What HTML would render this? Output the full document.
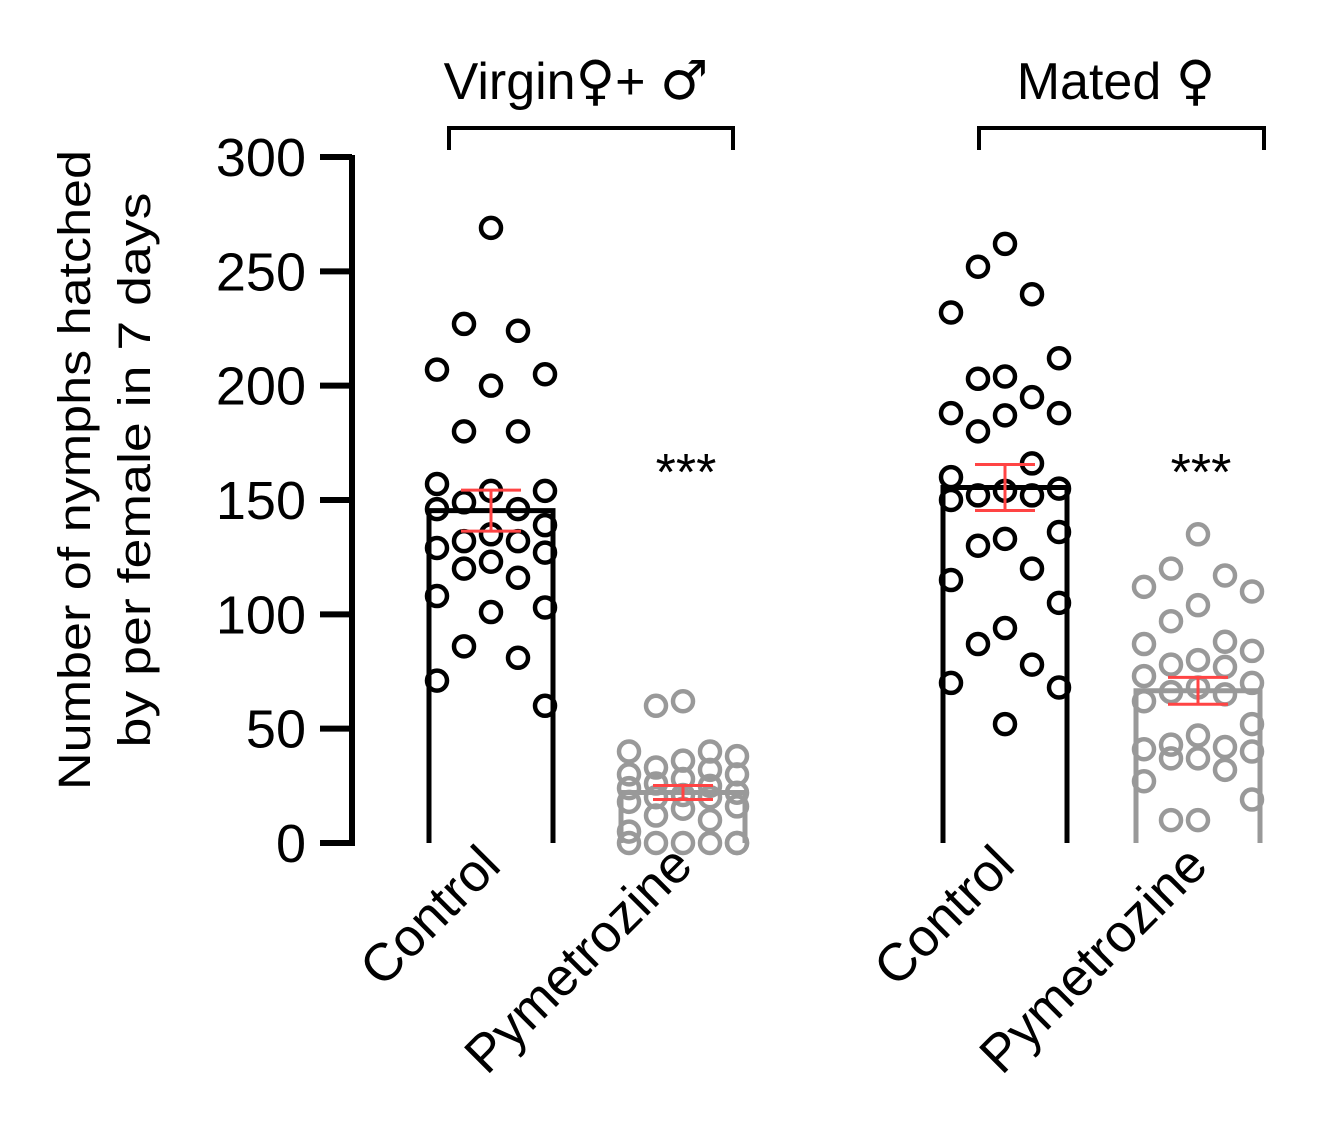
<!DOCTYPE html>
<html><head><meta charset="utf-8"><style>
html,body{margin:0;padding:0;background:#fff;}
svg{display:block;font-family:"Liberation Sans","DejaVu Sans",sans-serif;}
.sym{font-family:"DejaVu Sans",sans-serif;}
</style></head><body>
<svg id="chart" width="1318" height="1122" viewBox="0 0 1318 1122">
<g font-size="45" fill="#000">
<text transform="translate(90,470) rotate(-90)" text-anchor="middle" textLength="640" lengthAdjust="spacingAndGlyphs">Number of nymphs hatched</text>
<text transform="translate(150,470) rotate(-90)" text-anchor="middle" textLength="555" lengthAdjust="spacingAndGlyphs">by per female in 7 days</text>
</g>
<g id="axis"></g>
<g id="marks"></g>
<g>
<text x="576" y="99" font-size="52" text-anchor="middle">Virgin<tspan class="sym" font-size="54">♀</tspan>+ <tspan class="sym" font-size="54">♂</tspan></text>
<path d="M449,150 V128 H733 V150" fill="none" stroke="#000" stroke-width="4"/>
</g>
<g>
<text x="1116" y="99" font-size="52" text-anchor="middle">Mated <tspan class="sym" font-size="54">♀</tspan></text>
<path d="M979,150 V128 H1264 V150" fill="none" stroke="#000" stroke-width="4"/>
</g>
</svg>
<script>
const categories = ["Control","Pymetrozine","Control","Pymetrozine"];
const virginControl = [269,227,224,207,205,200,180,180,154,154,157,149,146,146,135,139,132,129,132,127,123,120,116,108,101,103,86,81,71,60];
const virginPym = [62,60,40,38,40,36,33,32,30,30,28,26,25,24,22,21,20,20,18,16,15,12,10,5,0,0,0,0,0,0];
const matedControl = [262,240,252,232,212,204,203,195,188,188,187,180,166,160,154,155,152,152,150,136,133,130,120,115,105,94,87,78,70,68,52];
const matedPym = [135,120,117,110,112,104,97,88,87,84,80,78,77,73,70,68,66,65,62,52,47,43,42,41,40,37,37,32,27,19,10,10];
const yTicks = [0,50,100,150,200,250,300];
const series = [virginControl, virginPym, matedControl, matedPym];
const centers = [491,683,1005,1198];
const colors = ["#000","#999","#000","#999"];
const sigLabels = ["","***","","***"];

const NS="http://www.w3.org/2000/svg";
const y0=843, y1=157;
const yScale = v => y0 - (v/300)*(y0-y1);
function mk(tag, attrs, parent){const e=document.createElementNS(NS,tag);for(const k in attrs)e.setAttribute(k,attrs[k]);parent.appendChild(e);return e;}
const axis=document.getElementById('axis'), marks=document.getElementById('marks');
const al=mk('line',{x1:352,x2:352,y1:y1-2,y2:y0+3,stroke:'#000','stroke-width':6},axis);


yTicks.forEach(t=>{
  const tl=mk('line',{x1:320,x2:352,y1:yScale(t),y2:yScale(t),stroke:'#000','stroke-width':6},axis);
  
  
  const tx=mk('text',{x:306,y:yScale(t)+19,'font-size':54,'text-anchor':'end'},axis);
  tx.textContent=t;
  
  
});
const lanes=[0,-1,1,-2,2];
series.forEach((vals,i)=>{
  const cx=centers[i], col=colors[i];
  const mean=vals.reduce((a,b)=>a+b,0)/vals.length;
  const sd=Math.sqrt(vals.reduce((a,b)=>a+(b-mean)**2,0)/(vals.length-1));
  const se=sd/Math.sqrt(vals.length);
  const bar=mk('path',{d:`M${cx-62},${y0} V${yScale(mean)} H${cx+62} V${y0}`,fill:'none',stroke:col,'stroke-width':5},marks);
  
  
  const sorted=vals.map((v,k)=>[v,k]).sort((a,b)=>b[0]-a[0]);
  sorted.forEach(([v],r)=>{
    const c=mk('circle',{cx:cx+lanes[r%5]*27,cy:yScale(v),r:10,fill:'none',stroke:col,'stroke-width':4.5},marks);
    
    
  });
  const eg=mk('g',{stroke:'#f44','stroke-width':3,fill:'none'},marks);
  
  
  mk('line',{x1:cx,x2:cx,y1:yScale(mean+se),y2:yScale(mean-se)},eg);
  mk('line',{x1:cx-30,x2:cx+30,y1:yScale(mean+se),y2:yScale(mean+se)},eg);
  mk('line',{x1:cx-30,x2:cx+30,y1:yScale(mean-se),y2:yScale(mean-se)},eg);
  if(sigLabels[i]){
    const s=mk('text',{x:cx+3,y:490,'font-size':52,'text-anchor':'middle'},marks);
    s.textContent=sigLabels[i];
    
    
  }
  const xl=mk('text',{transform:`translate(${cx+12},${868}) rotate(-45)`,'font-size':53,'text-anchor':'end'},marks);
  xl.textContent=categories[i];
  
  
});
</script>
</body></html>
